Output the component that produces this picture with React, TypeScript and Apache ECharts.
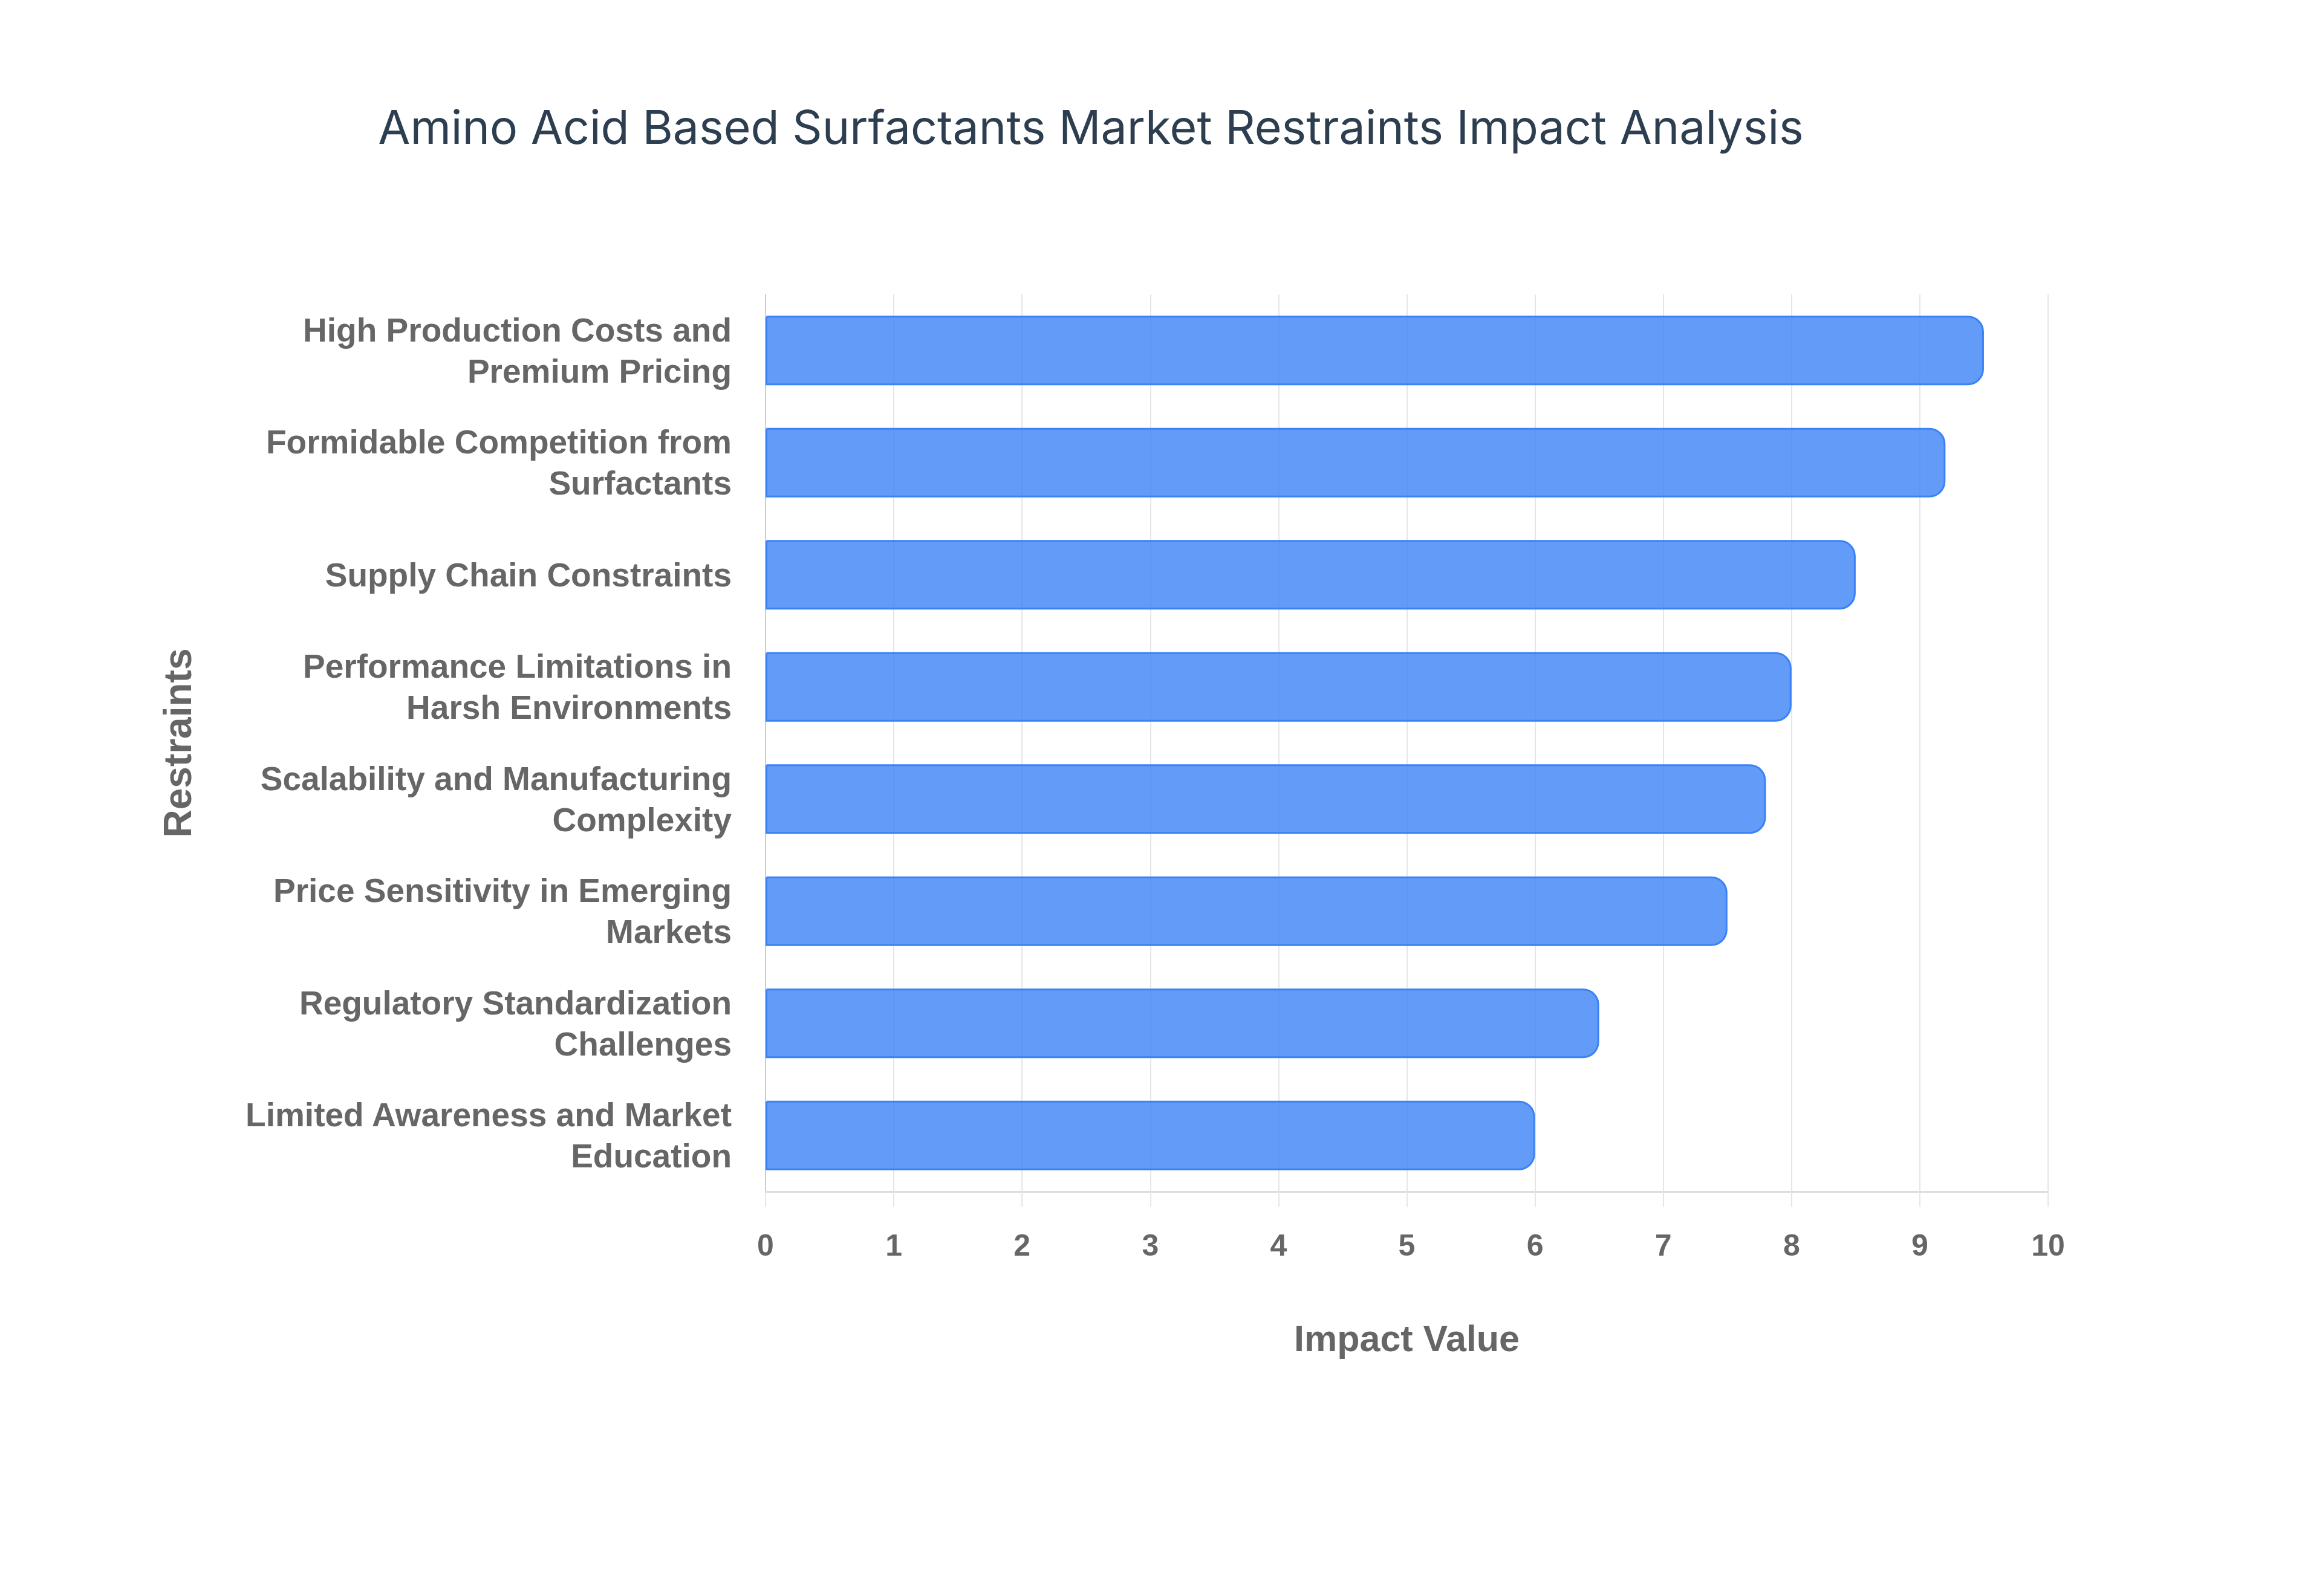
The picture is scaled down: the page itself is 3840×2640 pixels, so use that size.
import React, { useEffect, useRef } from "react";
import * as echarts from "echarts";

const titleText = "Amino Acid Based Surfactants Market Restraints Impact Analysis";
const categories = [
  "High Production Costs and Premium Pricing",
  "Formidable Competition from Surfactants",
  "Supply Chain Constraints",
  "Performance Limitations in Harsh Environments",
  "Scalability and Manufacturing Complexity",
  "Price Sensitivity in Emerging Markets",
  "Regulatory Standardization Challenges",
  "Limited Awareness and Market Education",
];
const impactValues = [9.5, 9.2, 8.5, 8.0, 7.8, 7.5, 6.5, 6.0];
const xAxisName = "Impact Value";
const yAxisName = "Restraints";

function wrapLabel(s: string, maxChars: number): string {
  const words = s.split(" ");
  const lines: string[] = [];
  let cur = "";
  for (const w of words) {
    const next = cur ? cur + " " + w : w;
    if (next.length > maxChars && cur) {
      lines.push(cur);
      cur = w;
    } else {
      cur = next;
    }
  }
  if (cur) lines.push(cur);
  return lines.join("\n");
}

export default function App() {
  const ref = useRef<HTMLDivElement>(null);
  useEffect(() => {
    document.body.style.margin = "0";
    if (!ref.current) return;
    const chart = echarts.init(ref.current, null, { renderer: "svg" });
    chart.setOption({
      animation: false,
      backgroundColor: "#ffffff",
      title: {
        text: titleText,
        left: 1799,
        top: 166,
        textAlign: "center",
        textStyle: {
          fontFamily: "Inter",
          fontSize: 77,
          fontWeight: "normal",
          color: "#2c3e50",
        },
      },
      grid: { left: 1266, right: 453, top: 487, bottom: 669, containLabel: false },
      xAxis: {
        type: "value",
        min: 0,
        max: 10,
        interval: 1,
        name: xAxisName,
        nameLocation: "middle",
        nameGap: 212,
        nameTextStyle: {
          fontFamily: "Liberation Sans",
          fontWeight: "bold",
          fontSize: 61,
          color: "#666666",
        },
        axisLine: { show: true, lineStyle: { color: "#dddddd", width: 3 } },
        axisTick: { show: true, length: 25, lineStyle: { color: "#e6e6e6", width: 2 } },
        axisLabel: {
          margin: 64,
          fontFamily: "Liberation Sans",
          fontWeight: "bold",
          fontSize: 50,
          color: "#666666",
        },
        splitLine: { show: true, lineStyle: { color: "#e6e6e6", width: 2 } },
      },
      yAxis: {
        type: "category",
        data: categories,
        inverse: true,
        name: yAxisName,
        nameLocation: "middle",
        nameGap: 940,
        nameTextStyle: {
          fontFamily: "Liberation Sans",
          fontWeight: "bold",
          fontSize: 64,
          color: "#666666",
        },
        axisLine: { show: true, lineStyle: { color: "#cccccc", width: 2 } },
        axisTick: { show: false },
        axisLabel: {
          margin: 56,
          fontFamily: "Liberation Sans",
          fontWeight: "bold",
          fontSize: 55,
          lineHeight: 68,
          color: "#666666",
          align: "right",
          padding: [0, 0, 12, 0],
          formatter: (v: string) => wrapLabel(v, 30),
        },
        splitLine: { show: false },
      },
      series: [
        {
          type: "bar",
          data: impactValues,
          barWidth: "62%",
          itemStyle: {
            color: "rgba(59,130,246,0.8)",
            borderColor: "#3b82f6",
            borderWidth: 3,
            borderRadius: [0, 25, 25, 0],
          },
        },
      ],
    });
    return () => chart.dispose();
  }, []);
  return <div ref={ref} style={{ width: 3840, height: 2640 }} />;
}
